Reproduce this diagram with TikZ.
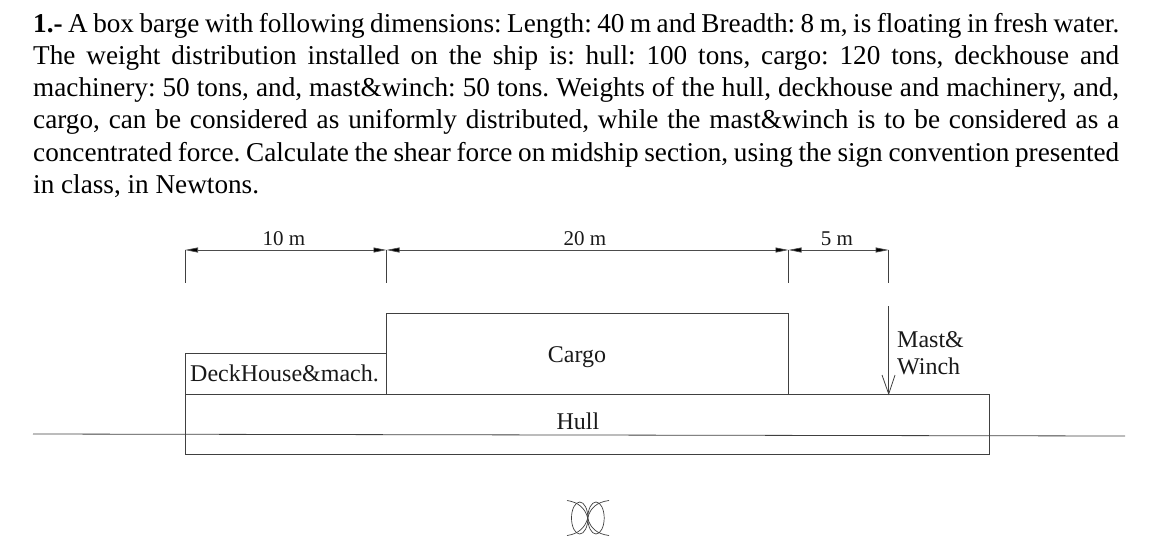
\documentclass[tikz,border=0pt]{standalone}
\usepackage{fontspec}
\setmainfont{Liberation Serif}
\usetikzlibrary{arrows.meta}
\tikzset{
  x=1pt,y=-1pt,
  line/.style={draw=black!75,line width=0.8pt},
  dimline/.style={draw=black!70,line width=0.7pt,{Triangle[length=13pt,width=5pt,fill=black]}-{Triangle[length=13pt,width=5pt,fill=black]}},
  lab/.style={font=\fontsize{24}{28}\selectfont,inner sep=0pt,text=black!90},
  dimlab/.style={font=\fontsize{21}{25}\selectfont,inner sep=0pt,text=black!90},
  boxpart/.style={line,fill=none}
}
\begin{document}
\begin{tikzpicture}
\useasboundingbox (0,0) rectangle (1160,558);
\node[anchor=north west,inner sep=0pt,text width=1086pt,align=justify,font=\fontsize{27.2}{32.2}\selectfont] (para) at (33,13)
{\frenchspacing\spaceskip=0.25em plus 0.3em minus 0.12em
\textbf{1.-} A box barge with following dimensions: Length: 40 m and Breadth: 8 m, is floating in fresh water.\linebreak
The weight distribution installed on the ship is: hull: 100 tons, cargo: 120 tons, deckhouse and\linebreak
machinery: 50 tons, and, mast\&winch: 50 tons. Weights of the hull, deckhouse and machinery, and,\linebreak
cargo, can be considered as uniformly distributed, while the mast\&winch is to be considered as a\linebreak
concentrated force. Calculate the shear force on midship section, using the sign convention presented\linebreak
in class, in Newtons.\par};
% boxes
\coordinate (hullA) at (185,394); \coordinate (hullB) at (989.5,454.5);
\coordinate (dhA) at (185,353); \coordinate (dhB) at (386.5,394);
\coordinate (cgA) at (386.5,313.5); \coordinate (cgB) at (788.5,394);
\draw[boxpart] (hullA) rectangle (hullB);
\draw[boxpart] (dhA) rectangle (dhB);
\draw[boxpart] (cgA) rectangle (cgB);
\node[lab] (dh) at (284.5,373) {DeckHouse\&mach.};
\node[lab] (cargo) at (577,357.5) {Cargo};
\node[lab] (hull) at (578,421) {Hull};
% water
\coordinate (w1) at (33,434); \coordinate (w2) at (1125,436);
\draw[line] (w1) -- (w2);
% dimension extension lines
\coordinate (e1t) at (185,250); \coordinate (e1b) at (185,283);
\coordinate (e2t) at (386.5,250); \coordinate (e2b) at (386.5,283);
\coordinate (e3t) at (788.5,250); \coordinate (e3b) at (788.5,283);
\coordinate (e4t) at (888.7,250); \coordinate (e4b) at (888.7,283);
\draw[line] (e1t) -- (e1b);
\draw[line] (e2t) -- (e2b);
\draw[line] (e3t) -- (e3b);
\draw[line] (e4t) -- (e4b);
\draw[dimline] (e1t) -- (e2t);
\draw[dimline] (e2t) -- (e3t);
\draw[dimline] (e3t) -- (e4t);
\node[dimlab] (d10) at (284,239) {10 m};
\node[dimlab] (d20) at (585,239) {20 m};
\node[dimlab] (d5) at (837,239) {5 m};
% mast force
\coordinate (mt) at (888.7,306); \coordinate (mb) at (888.7,394);
\draw[line] (mt) -- (mb);
\draw[line] (882,375) -- (mb) -- (895,375);
\node[lab,anchor=west] (mast) at (897,340) {Mast\&};
\node[lab,anchor=west] (winch) at (897,366) {Winch};
% midship symbol
\draw[line,line width=0.7pt] (579.7,518) ellipse (8.2pt and 16pt);
\draw[line,line width=0.7pt] (596,518) ellipse (8.2pt and 16pt);
\draw[line,line width=0.7pt] (567,500.5) .. controls (578,502) and (585,508) .. (587.8,518) .. controls (590,528) and (597,534) .. (609,535.5);
\draw[line,line width=0.7pt] (609,500.5) .. controls (597,502) and (590,508) .. (587.8,518) .. controls (585,528) and (578,534) .. (567,535.5);
\end{tikzpicture}
\end{document}
